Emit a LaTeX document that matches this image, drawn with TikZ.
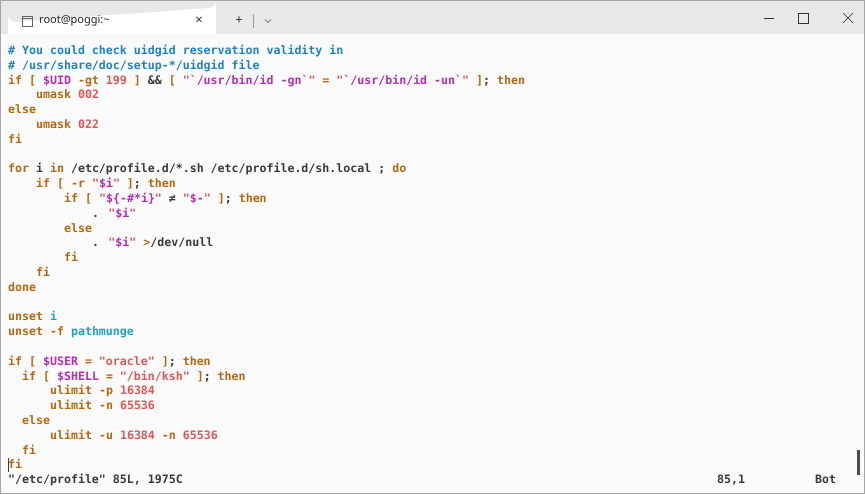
\documentclass[tikz,border=0pt]{standalone}
\usepackage{fontspec}
\setmainfont{Noto Sans}
\newfontfamily\tm{DejaVu Sans Mono Bold}
\definecolor{kw}{HTML}{B5670E}
\definecolor{cm}{HTML}{1C82C4}
\definecolor{nu}{HTML}{E25555}
\definecolor{st}{HTML}{B42DB4}
\definecolor{cy}{HTML}{1FA3BD}
\definecolor{pl}{HTML}{3A3A3A}
\def\K#1{{\color{kw}\relax#1}}
\def\N#1{{\color{nu}\relax#1}}
\def\S#1{{\color{st}\relax#1}}
\def\C#1{{\color{cy}\relax#1}}
\tikzset{ln/.style={anchor=base west,inner sep=0pt,text=pl,font=\tm\fontsize{11.6}{14}\selectfont},
 ui/.style={inner sep=0pt,text=black!85,font=\fontsize{11}{12}\selectfont},
 ctl/.style={inner sep=0pt,text=black!80,font=\fontsize{13}{13}\selectfont}}
\begin{document}
\begin{tikzpicture}[x=1pt,y=-1pt]
\useasboundingbox (0,0) rectangle (865,494);
\fill[black!9] (0,0) rectangle (865,34);
\fill[white!98!black] (0,34) rectangle (865,494);
\draw[black!35] (0.5,0.5) rectangle (864.5,493.5);
\fill[white] (8,34) -- (8,15) arc[start angle=180,end angle=90,radius=7] -- (209,8) arc[start angle=90,end angle=0,radius=7] -- (216,34) -- cycle;
\draw[black!60,line width=0.8] (22,16) rectangle (32,26) (22,18.5)--(32,18.5);
\node[ui,anchor=west] (title) at (39,21) {root@poggi:\textasciitilde};
\node[ctl] (tclose) at (199,21) {×};
\node[ctl] (plus) at (239,21) {+};
\draw[black!40] (253,14)--(253,28);
\draw[black!70] (265,19.5)--(268,22.5)--(271,19.5);
\draw[black!80] (764,18.5)--(774,18.5);
\draw[black!80] (798.5,13.5) rectangle (808.5,23.5);
\draw[black!80] (843,13)--(853,23) (853,13)--(843,23);
\fill[black!70] (857,450) rectangle (860,475);
\begin{scope}[yshift=-1.5pt]
\node[ln] (l0) at (8,53) {\color{cm}\# You could check uidgid reservation validity in};
\node[ln] (l1) at (8,67.8) {\color{cm}\# /usr/share/doc/setup-*/uidgid file};
\node[ln] (l2) at (8,82.6) {\K{if [ }\S{\$UID}\K{ -gt }\N{199}\K{ ] }\&\& \K{[ }\N{"}\S{`/usr/bin/id -gn`}\N{"} \K{=} \N{"}\S{`/usr/bin/id -un`}\N{"} \K{]}; \K{then}};
\node[ln] (l3) at (36,97.4) {\K{umask} \N{002}};
\node[ln] (l4) at (8,112.2) {\K{else}};
\node[ln] (l5) at (36,127) {\K{umask} \N{022}};
\node[ln] (l6) at (8,141.8) {\K{fi}};
\node[ln] (l8) at (8,171.4) {\K{for} i \K{in} /etc/profile.d/*.sh /etc/profile.d/sh.local ; \K{do}};
\node[ln] (l9) at (36,186.2) {\K{if [ -r} \N{"}\S{\$i}\N{"} \K{]}; \K{then}};
\node[ln] (l10) at (64,201) {\K{if [} \N{"}\S{\$\{-\#*i\}}\N{"} ≠ \N{"}\S{\$-}\N{"} \K{]}; \K{then}};
\node[ln] (l11) at (92,215.8) {. \N{"}\S{\$i}\N{"}};
\node[ln] (l12) at (64,230.6) {\K{else}};
\node[ln] (l13) at (92,245.4) {. \N{"}\S{\$i}\N{"} \K{>}/dev/null};
\node[ln] (l14) at (64,260.2) {\K{fi}};
\node[ln] (l15) at (36,275) {\K{fi}};
\node[ln] (l16) at (8,289.8) {\K{done}};
\node[ln] (l18) at (8,319.4) {\K{unset} \C{i}};
\node[ln] (l19) at (8,334.2) {\K{unset -f} \C{pathmunge}};
\node[ln] (l21) at (8,363.8) {\K{if [} \S{\$USER} \K{=} \N{"oracle"} \K{]}; \K{then}};
\node[ln] (l22) at (22,378.6) {\K{if [} \S{\$SHELL} \K{=} \N{"/bin/ksh"} \K{]}; \K{then}};
\node[ln] (l23) at (50,393.4) {\K{ulimit -p} \N{16384}};
\node[ln] (l24) at (50,408.2) {\K{ulimit -n} \N{65536}};
\node[ln] (l25) at (22,423) {\K{else}};
\node[ln] (l26) at (50,437.8) {\K{ulimit -u} \N{16384} \K{-n} \N{65536}};
\node[ln] (l27) at (22,452.6) {\K{fi}};
\node[ln] (l28) at (8,467.4) {\K{fi}};
\draw[pl] (8.5,456)--(8.5,470);
\node[ln] (l29) at (8,482.2) {"/etc/profile" 85L, 1975C};
\node[ln] (pos) at (717,482.2) {85,1};
\node[ln] (bot) at (815,482.2) {Bot};
\end{scope}
\end{tikzpicture}
\end{document}
